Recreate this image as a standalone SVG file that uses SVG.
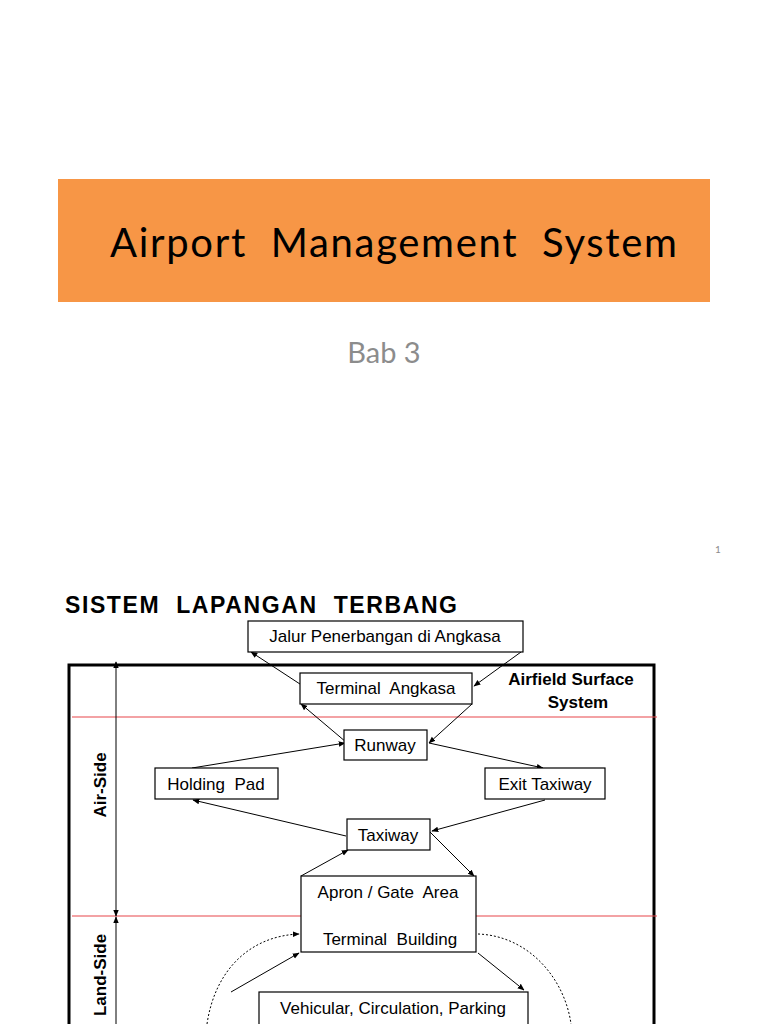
<svg xmlns="http://www.w3.org/2000/svg" width="768" height="1024" viewBox="0 0 768 1024">
<defs>
<marker id="a" viewBox="0 0 10 10" refX="9" refY="5" markerWidth="7" markerHeight="7" orient="auto-start-reverse"><path d="M0,1 L10,5 L0,9 z" fill="#000"/></marker>
<style>
text{white-space:pre}
.n rect{fill:#fff;stroke:#000;stroke-width:1.2}
.n text,.t{font-family:"Liberation Sans",Arial,sans-serif;font-size:17px;text-anchor:middle}
.c line,.c path{stroke:#000;stroke-width:1;fill:none;marker-end:url(#a)}
.b{font-family:"Liberation Sans",Arial,sans-serif;font-weight:bold;font-size:17px;text-anchor:middle}
</style>
</defs>
<rect width="768" height="1024" fill="#fff"/>
<rect x="58" y="179" width="652" height="123" fill="#F79646"/>
<text x="110" y="257" font-family="Lato,'Open Sans',sans-serif" font-size="40" textLength="567" lengthAdjust="spacing" fill="#000">Airport  Management  System</text>
<text x="384" y="363" font-family="Lato,'Open Sans',sans-serif" font-size="29" text-anchor="middle" fill="#8c8c8c">Bab 3</text>
<text x="718" y="553" font-family="Lato,sans-serif" font-size="10" text-anchor="middle" fill="#8c8c8c">1</text>
<text x="65" y="613" font-family="'Liberation Sans',Arial,sans-serif" font-weight="bold" font-size="23" textLength="392" lengthAdjust="spacing" fill="#000">SISTEM  LAPANGAN  TERBANG</text>
<rect x="69" y="665" width="585" height="370" fill="none" stroke="#000" stroke-width="3"/>
<line x1="72" y1="717" x2="657" y2="717" stroke="#e8474b" stroke-width="1.2"/>
<line x1="72" y1="916" x2="657" y2="916" stroke="#e8474b" stroke-width="1.2"/>
<text class="b" x="571" y="685">Airfield Surface</text>
<text class="b" x="578" y="708">System</text>
<text class="b" transform="translate(106,785) rotate(-90)">Air-Side</text>
<text class="b" transform="translate(106,975) rotate(-90)">Land-Side</text>
<g class="c">
<line x1="116" y1="668" x2="116" y2="662" />
<line x1="116" y1="668" x2="116" y2="916"/>
<line x1="116" y1="1024" x2="116" y2="917"/>
<line x1="303" y1="686" x2="251" y2="652"/>
<line x1="521" y1="652" x2="474" y2="686"/>
<line x1="346" y1="742" x2="301" y2="704"/>
<line x1="472" y1="704" x2="429" y2="743"/>
<line x1="192" y1="768" x2="345" y2="743"/>
<line x1="429" y1="743" x2="543" y2="768"/>
<line x1="545" y1="800" x2="432" y2="831"/>
<line x1="346" y1="836" x2="193" y2="800"/>
<line x1="301" y1="876" x2="348" y2="850"/>
<line x1="430" y1="832" x2="474" y2="876"/>
<line x1="231" y1="992" x2="299" y2="953"/>
<line x1="478" y1="953" x2="524" y2="990"/>
<path d="M207,1024 C215,970 250,936 299,934" stroke-dasharray="2,2"/>
<path d="M478,934 C530,936 565,980 571,1024" stroke-dasharray="2,2" style="marker-end:none"/>
</g>
<g id="jalur" class="n"><rect x="248" y="621" width="275" height="31"/><text x="385" y="642">Jalur Penerbangan di Angkasa</text></g>
<g id="terminalAngkasa" class="n"><rect x="300" y="673" width="172" height="31"/><text x="386" y="694">Terminal  Angkasa</text></g>
<g id="runway" class="n"><rect x="344" y="730" width="83" height="30"/><text x="385" y="751">Runway</text></g>
<g id="holding" class="n"><rect x="155" y="768" width="123" height="31"/><text x="216" y="790">Holding  Pad</text></g>
<g id="exit" class="n"><rect x="485" y="768" width="120" height="31"/><text x="545" y="790">Exit Taxiway</text></g>
<g id="taxiway" class="n"><rect x="347" y="819" width="83" height="31"/><text x="388" y="841">Taxiway</text></g>
<g id="apron" class="n"><rect x="301" y="876" width="175" height="76"/><text x="388" y="898">Apron / Gate  Area</text><text x="390" y="945">Terminal  Building</text></g>
<g id="vehicular" class="n"><rect x="259" y="992" width="269" height="40"/><text x="393" y="1014">Vehicular, Circulation, Parking</text></g>
</svg>
